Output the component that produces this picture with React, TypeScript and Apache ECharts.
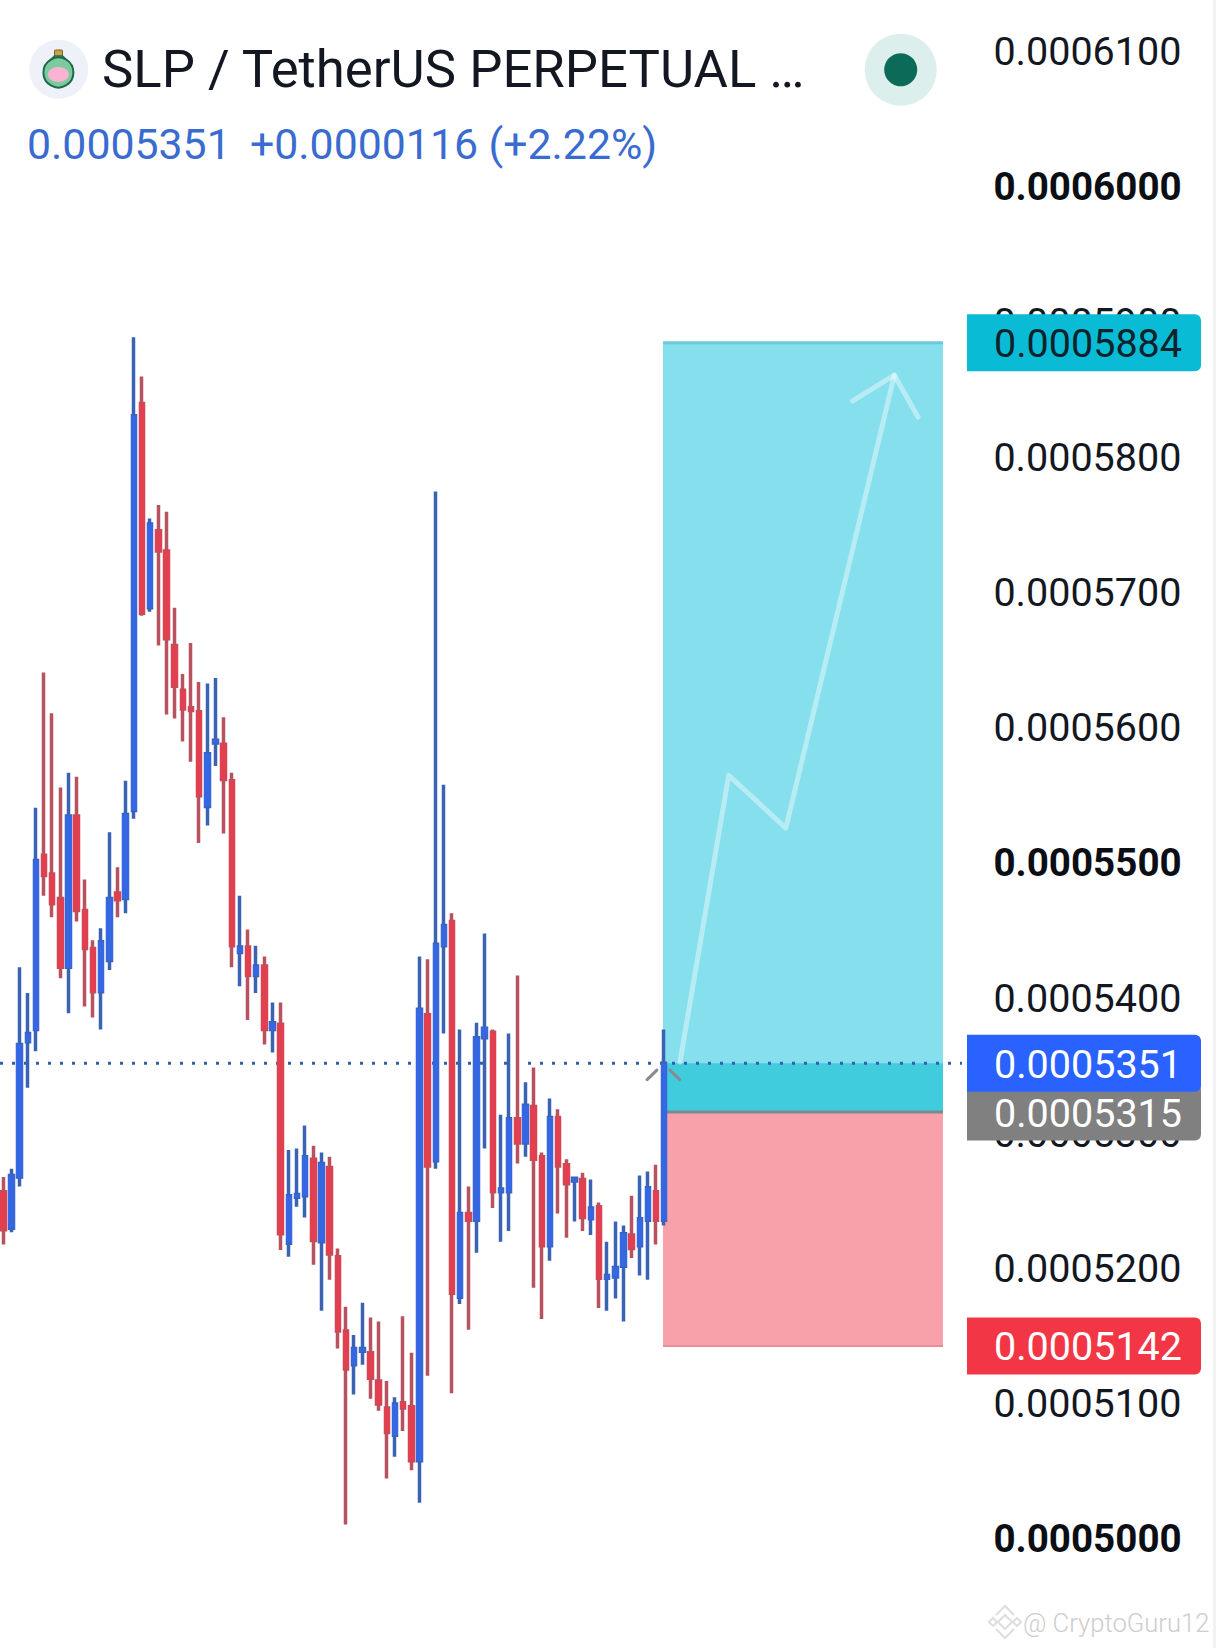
import React, { useEffect, useRef } from "react";
import * as echarts from "echarts";

// Prices are written in units of 0.0000001 (the instrument's tick size).
const TICK_DIVISOR = 1e7;

const opens = [
  5256, 5229, 5267, 5367, 5376, 5505, 5491, 5473, 5422, 5534,
  5464, 5436, 5404, 5427, 5477, 5473, 5538, 5839, 5688, 5745,
  5730, 5660, 5627, 5614, 5611, 5541, 5588, 5587, 5560, 5433,
  5437, 5416, 5423, 5376, 5380, 5218, 5252, 5253, 5280, 5219,
  5274, 5208, 5153, 5128, 5138, 5137, 5116, 5096, 5076, 5100,
  5097, 5057, 5387, 5279, 5438, 5456, 5178, 5240, 5235, 5370,
  5374, 5256, 5256, 5310, 5292, 5319, 5282, 5216, 5311, 5276,
  5264, 5265, 5236, 5245, 5192, 5193, 5201, 5224, 5216, 5235,
  5256, 5235,
];
const closes = [
  5228, 5268, 5365, 5373, 5501, 5490, 5469, 5422, 5534, 5464,
  5436, 5404, 5441, 5473, 5472, 5535, 5830, 5684, 5750, 5730,
  5665, 5630, 5613, 5612, 5549, 5580, 5590, 5561, 5438, 5437,
  5416, 5423, 5376, 5381, 5225, 5253, 5254, 5282, 5220, 5277,
  5210, 5153, 5125, 5140, 5140, 5118, 5099, 5078, 5099, 5096,
  5057, 5391, 5275, 5439, 5453, 5181, 5240, 5235, 5370, 5377,
  5256, 5258, 5310, 5292, 5320, 5280, 5216, 5311, 5275, 5262,
  5266, 5237, 5244, 5192, 5194, 5200, 5225, 5214, 5236, 5259,
  5235, 5351,
];
const lows = [
  5217, 5226, 5260, 5333, 5360, 5475, 5459, 5414, 5388, 5456,
  5393, 5385, 5376, 5420, 5459, 5462, 5532, 5682, 5685, 5660,
  5609, 5606, 5589, 5574, 5514, 5527, 5571, 5521, 5422, 5408,
  5383, 5403, 5365, 5359, 5213, 5208, 5245, 5237, 5202, 5168,
  5191, 5140, 5010, 5106, 5128, 5103, 5094, 5044, 5060, 5079,
  5050, 5026, 5120, 5273, 5373, 5107, 5173, 5154, 5211, 5288,
  5244, 5219, 5227, 5277, 5282, 5185, 5162, 5205, 5240, 5222,
  5234, 5227, 5224, 5170, 5168, 5177, 5160, 5207, 5194, 5191,
  5217, 5231,
];
const highs = [
  5267, 5273, 5422, 5403, 5540, 5640, 5610, 5555, 5566, 5563,
  5487, 5442, 5451, 5522, 5496, 5560, 5888, 5859, 5754, 5764,
  5759, 5688, 5639, 5662, 5633, 5632, 5636, 5607, 5566, 5475,
  5450, 5438, 5430, 5396, 5396, 5287, 5288, 5305, 5290, 5285,
  5282, 5214, 5171, 5150, 5174, 5163, 5160, 5116, 5104, 5164,
  5137, 5430, 5428, 5774, 5557, 5462, 5376, 5260, 5381, 5447,
  5376, 5313, 5373, 5416, 5337, 5348, 5285, 5325, 5317, 5280,
  5267, 5270, 5265, 5248, 5219, 5234, 5231, 5253, 5268, 5271,
  5276, 5376,
];

const boldTicks = ["0.0006000", "0.0005500", "0.0005000"];

const LAST_PRICE = 5351;
const ENTRY_PRICE = 5315;
const TARGET_PRICE = 5884;
const STOP_PRICE = 5142;

const TITLE = "SLP / TetherUS PERPETUAL …";
const QUOTE_LAST = "0.0005351";
const QUOTE_CHANGE = "+0.0000116 (+2.22%)";
const WATERMARK = "@ CryptoGuru12";

// Slots on the bar-number axis; the chart has room for this many bars.
const SLOT_COUNT = 120;
const BOX_FROM = 81.35;
const BOX_TO = 115.66;

const positionZones = [
  { top: TARGET_PRICE, bottom: ENTRY_PRICE, fill: "#86DFEC" },
  { top: LAST_PRICE, bottom: ENTRY_PRICE, fill: "#40CCDD" },
  { top: ENTRY_PRICE, bottom: STOP_PRICE, fill: "#F9A1AB" },
];
const positionEdges = [
  { price: TARGET_PRICE, color: "#6CC9DA", width: 3 },
  { price: ENTRY_PRICE, color: "#7C8A8F", width: 3 },
  { price: STOP_PRICE, color: "#E88C96", width: 2 },
];

// [bar number, price] of each drawn stroke on the position tool.
const arrowStrokes = [
  { color: "rgba(255,255,255,0.42)", width: 5, points: [[83.43, 5352], [89.4, 5564], [96.4, 5525], [109.7, 5860]] },
  { color: "rgba(255,255,255,0.42)", width: 5, points: [[104.6, 5841], [109.7, 5860], [112.6, 5829]] },
  { color: "#858b8e", width: 3, points: [[79.4, 5339], [80.6, 5346]] },
  { color: "#858b8e", width: 3, points: [[82.2, 5346], [83.4, 5339]] },
];

const priceTags = [
  { price: TARGET_PRICE, fill: "#0ABBD5", text: "#10222a" },
  { price: STOP_PRICE, fill: "#F23645", text: "#ffffff" },
  { price: ENTRY_PRICE, fill: "#808080", text: "#ffffff" },
  { price: LAST_PRICE, fill: "#2962FF", text: "#ffffff" },
];

const toPrice = (ticks: number) => ticks / TICK_DIVISOR;
const FONT = "Roboto, sans-serif";
const PRICE_FONT_SIZE = 39.5;
const BOLD_PRICE_FONT_SIZE = 38.6;

const COLORS = {
  upBody: "#3567E2",
  downBody: "#E0404F",
  upWick: "#3A63B4",
  downWick: "#B9525F",
};

function buildOption() {
  const categories = Array.from({ length: SLOT_COUNT }, (_, i) => String(i + 1));
  const wickData = opens.map((o, i) => [toPrice(o), toPrice(closes[i]), toPrice(lows[i]), toPrice(highs[i])]);
  const bodyData = opens.map((o, i) => {
    const c = closes[i];
    return [toPrice(o), toPrice(c), toPrice(Math.min(o, c)), toPrice(Math.max(o, c))];
  });

  const zoneSeries = {
    type: "custom",
    name: "Position zones",
    xAxisIndex: 1,
    yAxisIndex: 0,
    z: 1,
    silent: true,
    data: positionZones.map((b) => [BOX_FROM, toPrice(b.top)]),
    renderItem: (params: any, api: any) => {
      const b = positionZones[params.dataIndex];
      const a = api.coord([BOX_FROM, toPrice(b.top)]);
      const c = api.coord([BOX_TO, toPrice(b.bottom)]);
      return { type: "rect", shape: { x: a[0], y: a[1], width: c[0] - a[0], height: c[1] - a[1] }, style: { fill: b.fill } };
    },
  };

  const edgeSeries = {
    type: "custom",
    name: "Position edges",
    xAxisIndex: 1,
    yAxisIndex: 0,
    z: 1,
    silent: true,
    data: positionEdges.map((e) => [BOX_FROM, toPrice(e.price)]),
    renderItem: (params: any, api: any) => {
      const e = positionEdges[params.dataIndex];
      const a = api.coord([BOX_FROM, toPrice(e.price)]);
      const c = api.coord([BOX_TO, toPrice(e.price)]);
      return { type: "line", shape: { x1: a[0], y1: a[1], x2: c[0], y2: c[1] }, style: { stroke: e.color, lineWidth: e.width } };
    },
  };

  const lastPriceLine = {
    type: "custom",
    name: "Last price line",
    xAxisIndex: 1,
    yAxisIndex: 0,
    z: 2,
    silent: true,
    data: [[0, toPrice(LAST_PRICE)]],
    renderItem: (_: any, api: any) => {
      const y = api.coord([0, toPrice(LAST_PRICE)])[1];
      return {
        type: "line",
        shape: { x1: 0, y1: y, x2: 962, y2: y },
        style: { stroke: "#2F5FAE", lineWidth: 3, lineDash: [3, 9] },
      };
    },
  };

  const arrowSeries = {
    type: "custom",
    name: "Position arrow",
    xAxisIndex: 1,
    yAxisIndex: 0,
    z: 2,
    silent: true,
    data: arrowStrokes.map((s) => [s.points[0][0], toPrice(s.points[0][1])]),
    renderItem: (params: any, api: any) => {
      const s = arrowStrokes[params.dataIndex];
      return {
        type: "polyline",
        shape: { points: s.points.map((p) => api.coord([p[0], toPrice(p[1])])) },
        style: { stroke: s.color, lineWidth: s.width, fill: "none", lineCap: "round", lineJoin: "round" },
      };
    },
  };

  const tagSeries = {
    type: "custom",
    name: "Price tags",
    xAxisIndex: 1,
    yAxisIndex: 0,
    z: 6,
    silent: true,
    clip: false,
    data: priceTags.map((t) => [118, toPrice(t.price)]),
    renderItem: (params: any, api: any) => {
      const t = priceTags[params.dataIndex];
      const y = api.coord([118, toPrice(t.price)])[1];
      return {
        type: "group",
        children: [
          { type: "rect", shape: { x: 967, y: y - 28.5, width: 234, height: 57, r: [0, 6, 6, 0] }, style: { fill: t.fill } },
          {
            type: "text",
            style: { x: 994, y: y + 1, text: toPrice(t.price).toFixed(7), fill: t.text, font: `${PRICE_FONT_SIZE}px ${FONT}`, align: "left", verticalAlign: "middle" },
          },
        ],
      };
    },
  };

  const graphic = [
    { type: "rect", shape: { x: 1213, y: 0, width: 3, height: 1648 }, style: { fill: "#F2F2F2" } },
    { type: "circle", shape: { cx: 58.7, cy: 69.3, r: 29.5 }, style: { fill: "#EEF1F7" } },
    { type: "rect", shape: { x: 54.5, y: 50, width: 8, height: 7, r: 1 }, style: { fill: "#C9A24A", stroke: "#7a5f20", lineWidth: 1 } },
    { type: "polygon", shape: { points: [[54.5, 56], [62.5, 56], [69, 62], [48, 62]] }, style: { fill: "#7CCB9F", stroke: "#1E6B4B", lineWidth: 1.5 } },
    { type: "circle", shape: { cx: 58.4, cy: 72.5, r: 15 }, style: { fill: "#7CCB9F", stroke: "#1E6B4B", lineWidth: 2 } },
    { type: "ellipse", shape: { cx: 58.4, cy: 74.5, rx: 10.5, ry: 7.5 }, style: { fill: "#FAB3D0" } },
    { type: "text", style: { x: 102, y: 69, text: TITLE, fill: "#131722", font: `52.7px ${FONT}`, align: "left", verticalAlign: "middle" } },
    { type: "text", style: { x: 27, y: 144, text: QUOTE_LAST, fill: "#3A6BD0", font: `42.8px ${FONT}`, align: "left", verticalAlign: "middle" } },
    { type: "text", style: { x: 250, y: 144, text: QUOTE_CHANGE, fill: "#3A6BD0", font: `42.8px ${FONT}`, align: "left", verticalAlign: "middle" } },
    { type: "circle", shape: { cx: 900.7, cy: 69.7, r: 36 }, style: { fill: "#DCEFEC" } },
    { type: "circle", shape: { cx: 900.7, cy: 69.7, r: 16.5 }, style: { fill: "#0C6B58" } },
    { type: "polygon", shape: { points: [[1005, 1615], [1012, 1622], [1005, 1629], [998, 1622]] }, style: { fill: "none", stroke: "#DEDEDE", lineWidth: 2 } },
    { type: "polyline", shape: { points: [[996, 1615], [1005, 1606], [1014, 1615]] }, style: { fill: "none", stroke: "#DEDEDE", lineWidth: 2 } },
    { type: "polyline", shape: { points: [[996, 1629], [1005, 1638], [1014, 1629]] }, style: { fill: "none", stroke: "#DEDEDE", lineWidth: 2 } },
    { type: "polygon", shape: { points: [[993, 1618], [997, 1622], [993, 1626], [989, 1622]] }, style: { fill: "none", stroke: "#DEDEDE", lineWidth: 2 } },
    { type: "polygon", shape: { points: [[1017, 1618], [1021, 1622], [1017, 1626], [1013, 1622]] }, style: { fill: "none", stroke: "#DEDEDE", lineWidth: 2 } },
    { type: "text", style: { x: 1023, y: 1623, text: WATERMARK, fill: "#CDCDCD", font: `300 25.6px ${FONT}`, align: "left", verticalAlign: "middle" } },
  ];

  return {
    animation: false,
    backgroundColor: "#ffffff",
    graphic,
    grid: {
      left: -0.8,
      top: 50.7,
      width: SLOT_COUNT * 8.16,
      height: 1487.2,
      containLabel: false,
      outerBoundsMode: "none",
    },
    xAxis: [
      { type: "category", data: categories, show: false, boundaryGap: true },
      { type: "value", min: 0, max: SLOT_COUNT, show: false },
    ],
    yAxis: {
      type: "value",
      position: "right",
      min: 0.0005,
      max: 0.00061,
      interval: 0.00001,
      scale: true,
      axisLine: { show: false },
      axisTick: { show: false },
      splitLine: { show: false },
      axisLabel: {
        margin: 15,
        showMinLabel: true,
        showMaxLabel: true,
        formatter: (v: number) => {
          const s = v.toFixed(7);
          return boldTicks.includes(s) ? `{b|${s}}` : `{n|${s}}`;
        },
        rich: {
          n: { fontFamily: FONT, fontSize: PRICE_FONT_SIZE, color: "#131722", padding: [2, 0, 0, 0] },
          b: { fontFamily: FONT, fontSize: BOLD_PRICE_FONT_SIZE, fontWeight: 700, color: "#0b0e14", padding: [2, 0, 0, 0] },
        },
      },
    },
    series: [
      zoneSeries,
      edgeSeries,
      lastPriceLine,
      arrowSeries,
      {
        type: "candlestick",
        name: "SLPUSDT wicks",
        xAxisIndex: 0,
        yAxisIndex: 0,
        z: 3,
        barWidth: 4,
        silent: true,
        itemStyle: {
          color: COLORS.upWick,
          color0: COLORS.downWick,
          borderColor: COLORS.upWick,
          borderColor0: COLORS.downWick,
          borderWidth: 3.5,
        },
        data: wickData,
      },
      {
        type: "candlestick",
        name: "SLPUSDT bodies",
        xAxisIndex: 0,
        yAxisIndex: 0,
        z: 4,
        barWidth: 6,
        silent: true,
        itemStyle: {
          color: COLORS.upBody,
          color0: COLORS.downBody,
          borderColor: COLORS.upBody,
          borderColor0: COLORS.downBody,
          borderWidth: 1,
        },
        data: bodyData,
      },
      tagSeries,
    ],
  };
}

export default function App() {
  const ref = useRef<HTMLDivElement | null>(null);
  useEffect(() => {
    document.body.style.margin = "0";
    const chart = echarts.init(ref.current as HTMLDivElement, undefined, { renderer: "svg" });
    chart.setOption(buildOption() as any);
    return () => chart.dispose();
  }, []);
  return <div ref={ref} style={{ width: 1216, height: 1648 }} />;
}
